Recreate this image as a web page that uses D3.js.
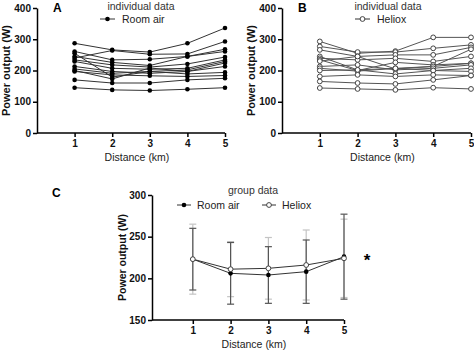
<!DOCTYPE html>
<html lang="en">
<head>
    <meta charset="UTF-8">
    <title>Power output</title>
    <script src="https://d3js.org/d3.v7.min.js"></script>
    <style>
        body { margin: 0; background: #fff; }
        text { font-family: "Liberation Sans", Arial, sans-serif; }
    </style>
</head>
<body>
<script>
    const width  = 474;
    const height = 351;

    const distances = [1, 2, 3, 4, 5];

    // individual subjects, room air (W)
    const roomAir = [
        [287, 266, 259, 287, 336],
        [240, 264, 252, 253, 293],
        [261, 234, 236, 245, 268],
        [245, 226, 216, 245, 261],
        [234, 218, 211, 221, 243],
        [229, 207, 204, 207, 234],
        [255, 179, 197, 202, 229],
        [213, 197, 191, 197, 213],
        [205, 191, 197, 189, 194],
        [197, 186, 183, 181, 184],
        [200, 173, 208, 197, 224],
        [170, 160, 160, 170, 175],
        [145, 138, 136, 140, 145]
    ];

    // individual subjects, heliox (W)
    const heliox = [
        [293, 255, 262, 306, 306],
        [277, 259, 259, 271, 282],
        [266, 245, 250, 250, 274],
        [245, 202, 207, 213, 268],
        [239, 234, 239, 229, 245],
        [234, 200, 226, 218, 223],
        [230, 245, 205, 213, 223],
        [213, 218, 202, 207, 218],
        [207, 198, 207, 200, 207],
        [200, 202, 189, 200, 197],
        [181, 186, 181, 186, 184],
        [165, 160, 157, 170, 184],
        [144, 141, 138, 145, 141]
    ];

    // group means and SD (W)
    const roomMean   = [223, 206, 204, 208, 226];
    const roomSD     = [37, 37, 34, 38, 51];
    const helioxMean = [223, 211, 212, 216, 224];
    const helioxSD   = [42, 33, 37, 42, 47];

    const yTicksInd   = [0, 100, 200, 300, 400];
    const yTicksGroup = [150, 200, 250, 300];

    const svg = d3.select("body").append("svg")
        .attr("width", width).attr("height", height);

    function axes(g, x, y, yTicks, axisX, labelX, labelSize) {
        const xa = g.append("g")
            .attr("transform", "translate(0," + y.range()[0] + ")")
            .call(d3.axisBottom(x).tickValues(distances).tickFormat(d3.format("d"))
                .tickSize(4).tickSizeOuter(0));
        xa.select(".domain").attr("d", "M" + axisX + ",0H" + x.range()[1]);

        const ya = g.append("g")
            .attr("transform", "translate(" + axisX + ",0)")
            .call(d3.axisLeft(y).tickValues(yTicks).tickFormat(d3.format("d"))
                .tickSize(4).tickSizeOuter(0));

        [xa, ya].forEach(a => {
            a.select(".domain").attr("stroke", "#000").attr("stroke-width", 1.5);
            a.selectAll(".tick line").attr("stroke", "#000").attr("stroke-width", 1.5);
            a.selectAll(".tick text")
                .attr("fill", "#111")
                .style("font-size", "10px")
                .style("font-weight", "bold");
        });
        ya.selectAll(".tick text").attr("x", -6);

        g.append("text")
            .attr("x", (axisX + x.range()[1]) / 2 + 6)
            .attr("y", y.range()[0] + 28)
            .attr("text-anchor", "middle")
            .style("font-size", "10.5px")
            .attr("fill", "#222")
            .text("Distance (km)");

        g.append("text")
            .attr("transform", "translate(" + labelX + "," + (y.range()[0] + y.range()[1]) / 2 + ") rotate(-90)")
            .attr("text-anchor", "middle")
            .style("font-size", labelSize)
            .style("font-weight", "bold")
            .attr("fill", "#111")
            .text("Power output (W)");
    }

    function marker(sel, open) {
        if (open) {
            sel.attr("r", 2.4).attr("fill", "#fff").attr("stroke", "#444").attr("stroke-width", 1);
        } else {
            sel.attr("r", 2.3).attr("fill", "#000");
        }
    }

    function individualPanel(data, letter, name, open, axisX, xEnd, labelX, titleX, legendX) {
        const g = svg.append("g");
        const x = d3.scaleLinear().domain([0, 5]).range([axisX, xEnd]);
        const y = d3.scaleLinear().domain([0, 400]).range([133, 8]);

        axes(g, x, y, yTicksInd, axisX, labelX, "11px");

        const line = d3.line().x((d, i) => x(distances[i])).y(d => y(d));

        g.selectAll(".subj").data(data).enter().append("path")
            .attr("d", line)
            .attr("fill", "none")
            .attr("stroke", open ? "#555" : "#333")
            .attr("stroke-width", 1);

        data.forEach(s => {
            g.selectAll(null).data(s).enter().append("circle")
                .attr("cx", (d, i) => x(distances[i]))
                .attr("cy", d => y(d))
                .call(marker, open);
        });

        g.append("text").attr("x", axisX + 16).attr("y", 12)
            .style("font-size", "12px").style("font-weight", "bold")
            .text(letter);

        g.append("text").attr("x", titleX).attr("y", 10)
            .attr("text-anchor", "middle").style("font-size", "10.5px").attr("fill", "#333")
            .text("individual data");

        const lx = legendX;
        g.append("line").attr("x1", lx).attr("x2", lx + 15).attr("y1", 19).attr("y2", 19)
            .attr("stroke", "#333");
        g.append("circle").attr("cx", lx + 7.5).attr("cy", 19).call(marker, open);
        g.append("text").attr("x", lx + 22).attr("y", 23)
            .style("font-size", "10.5px").attr("fill", "#222").text(name);
    }

    individualPanel(roomAir, "A", "Room air", false, 37, 225, 10, 141, 100);
    individualPanel(heliox, "B", "Heliox", true, 282, 471, 255, 388, 355);

    // panel C
    const gc = svg.append("g");
    const xc = d3.scaleLinear().domain([0, 5]).range([155, 344]);
    const yc = d3.scaleLinear().domain([150, 300]).range([320, 195]);

    axes(gc, xc, yc, yTicksGroup, 152, 126, "10.5px");

    function errorBars(mean, sd, colour) {
        const bars = gc.append("g").attr("stroke", colour).attr("stroke-width", 1.2);
        mean.forEach((m, i) => {
            const px = xc(distances[i]);
            bars.append("line").attr("x1", px).attr("x2", px)
                .attr("y1", yc(m + sd[i])).attr("y2", yc(m - sd[i]));
            [m + sd[i], m - sd[i]].forEach(v => {
                bars.append("line").attr("x1", px - 3.5).attr("x2", px + 3.5)
                    .attr("y1", yc(v)).attr("y2", yc(v));
            });
        });
    }

    errorBars(helioxMean, helioxSD, "#c4c4c4");
    errorBars(roomMean, roomSD, "#555");

    const lineC = d3.line().x((d, i) => xc(distances[i])).y(d => yc(d));
    [[roomMean, false], [helioxMean, true]].forEach(([m, open]) => {
        gc.append("path").attr("d", lineC(m))
            .attr("fill", "none").attr("stroke", "#333").attr("stroke-width", 1);
        gc.selectAll(null).data(m).enter().append("circle")
            .attr("cx", (d, i) => xc(distances[i]))
            .attr("cy", d => yc(d))
            .call(marker, open);
    });

    gc.append("text").attr("x", 52).attr("y", 197)
        .style("font-size", "12px").style("font-weight", "bold").text("C");

    gc.append("text").attr("x", 253).attr("y", 194)
        .attr("text-anchor", "middle").style("font-size", "10.5px").attr("fill", "#333")
        .text("group data");

    [["Room air", false, 177], ["Heliox", true, 262]].forEach(([name, open, lx]) => {
        gc.append("line").attr("x1", lx).attr("x2", lx + 14).attr("y1", 205).attr("y2", 205)
            .attr("stroke", "#333");
        gc.append("circle").attr("cx", lx + 7).attr("cy", 205).call(marker, open);
        gc.append("text").attr("x", lx + 20).attr("y", 209)
            .style("font-size", "10.5px").attr("fill", "#222").text(name);
    });

    gc.append("text").attr("x", 367).attr("y", 266)
        .attr("text-anchor", "middle").style("font-size", "17px").style("font-weight", "bold")
        .text("*");
</script>
</body>
</html>
